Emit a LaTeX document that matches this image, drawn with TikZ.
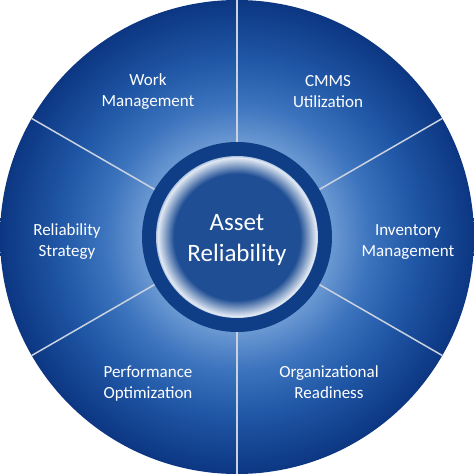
\documentclass[tikz,border=0pt]{standalone}
\usepackage{fontspec}
\setmainfont{Carlito}
\usepackage{xcolor}
\usepackage{tikz}
\usetikzlibrary{shapes}

\definecolor{ringblue}{HTML}{0F3D86}
\definecolor{edgeblue}{HTML}{0C3682}
\definecolor{midblue}{HTML}{1F56A5}
\definecolor{paleblue}{HTML}{3D74BE}
\definecolor{glowblue}{HTML}{6A98D2}
\definecolor{coreblue}{HTML}{1F4E94}
\definecolor{haloblue}{HTML}{E2EAF4}
\definecolor{rimblue}{HTML}{A9C0DE}
\definecolor{divgray}{HTML}{C9D2DE}

% the path is fitted to the middle 50bp, so its rim sits at 25bp
\pgfdeclareradialshading{outerdisk}{\pgfpoint{0bp}{0bp}}{color(0bp)=(glowblue); color(10bp)=(glowblue); color(14bp)=(paleblue); color(19bp)=(midblue); color(25bp)=(edgeblue); color(50bp)=(edgeblue)}
\pgfdeclareradialshading{innerdisk}{\pgfpoint{0bp}{0bp}}{color(0bp)=(coreblue); color(19.5bp)=(coreblue); color(24.5bp)=(haloblue); color(25bp)=(rimblue); color(50bp)=(rimblue)}

\begin{document}
\begin{tikzpicture}[x=1pt,y=1pt,
  lbl/.style={text=white,align=center,font=\fontsize{17}{21}\selectfont},
  hub/.style={text=white,align=center,font=\fontsize{25}{31}\selectfont}]
\useasboundingbox (-237,-237) rectangle (237,237);
\fill[white] (-237,-237) rectangle (237,237);
% wheel
\shade[shading=outerdisk] (0,0) circle (237);
\foreach \a in {90,30,-30,-90,150,210}
  \draw[divgray,line width=1.5pt] (\a:94)--(\a:237);
\fill[ringblue] (0,0) circle (95);
\shade[shading=innerdisk] (0,0) circle (81);
% labels
\node[hub] (asset) at (0,-3) {Asset\\Reliability};
\node[lbl] (work) at (-89,145) {Work\\Management};
\node[lbl] (cmms) at (91,145) {CMMS\\Utilization};
\node[lbl] (inventory) at (171,-5) {Inventory\\Management};
\node[lbl] (readiness) at (92,-145) {Organizational\\Readiness};
\node[lbl] (performance) at (-89,-147) {Performance\\Optimization};
\node[lbl] (strategy) at (-170,-5) {Reliability\\Strategy};
\end{tikzpicture}
\end{document}
